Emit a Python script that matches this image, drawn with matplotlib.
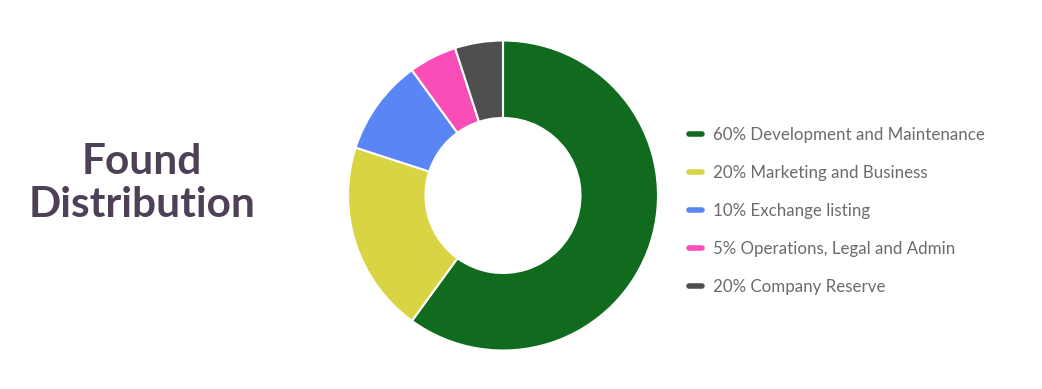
import matplotlib
matplotlib.use("Agg")
import matplotlib.pyplot as plt
from matplotlib.lines import Line2D

# slice values (as drawn) and legend labels (as written)
shares = [60, 20, 10, 5, 5]
labels = ["60% Development and Maintenance",
          "20% Marketing and Business",
          "10% Exchange listing",
          "5% Operations, Legal and Admin",
          "20% Company Reserve"]
colors = ["#116b1f", "#d9d443", "#5a86f5", "#f94db8", "#4f4f4f"]

W, H = 1042, 389
fig = plt.figure(figsize=(W / 100, H / 100), dpi=100)

# donut: center (503, 195.5) px, radius 155 px
cx, cy, r = 503, 195.5, 155
ax = fig.add_axes([(cx - r) / W, (H - cy - r) / H, 2 * r / W, 2 * r / H])
ax.pie(shares, colors=colors, startangle=90, counterclock=False, radius=1,
       wedgeprops=dict(width=0.5, edgecolor="white", linewidth=1.5))
ax.set_xlim(-1, 1); ax.set_ylim(-1, 1)
ax.set_aspect("equal")

fig.text(142 / W, 1 - 162 / H, "Found", ha="center", va="center",
         fontsize=30.5, fontweight="bold", color="#4d4057", family="Lato")
fig.text(142 / W, 1 - 205 / H, "Distribution", ha="center", va="center",
         fontsize=30.5, fontweight="bold", color="#4d4057", family="Lato")

handles = [Line2D([], [], color=c, lw=4, solid_capstyle="round") for c in colors]
leg = fig.legend(handles, labels, loc="upper left",
                 bbox_to_anchor=(689 / W, 1 - 127 / H), frameon=False,
                 prop=dict(family="Lato", size=12.2), labelcolor="#6b6b6b",
                 handlelength=0.75, handletextpad=0.65, labelspacing=1.3,
                 borderpad=0, borderaxespad=0)

fig.savefig("out.png", dpi=100)
